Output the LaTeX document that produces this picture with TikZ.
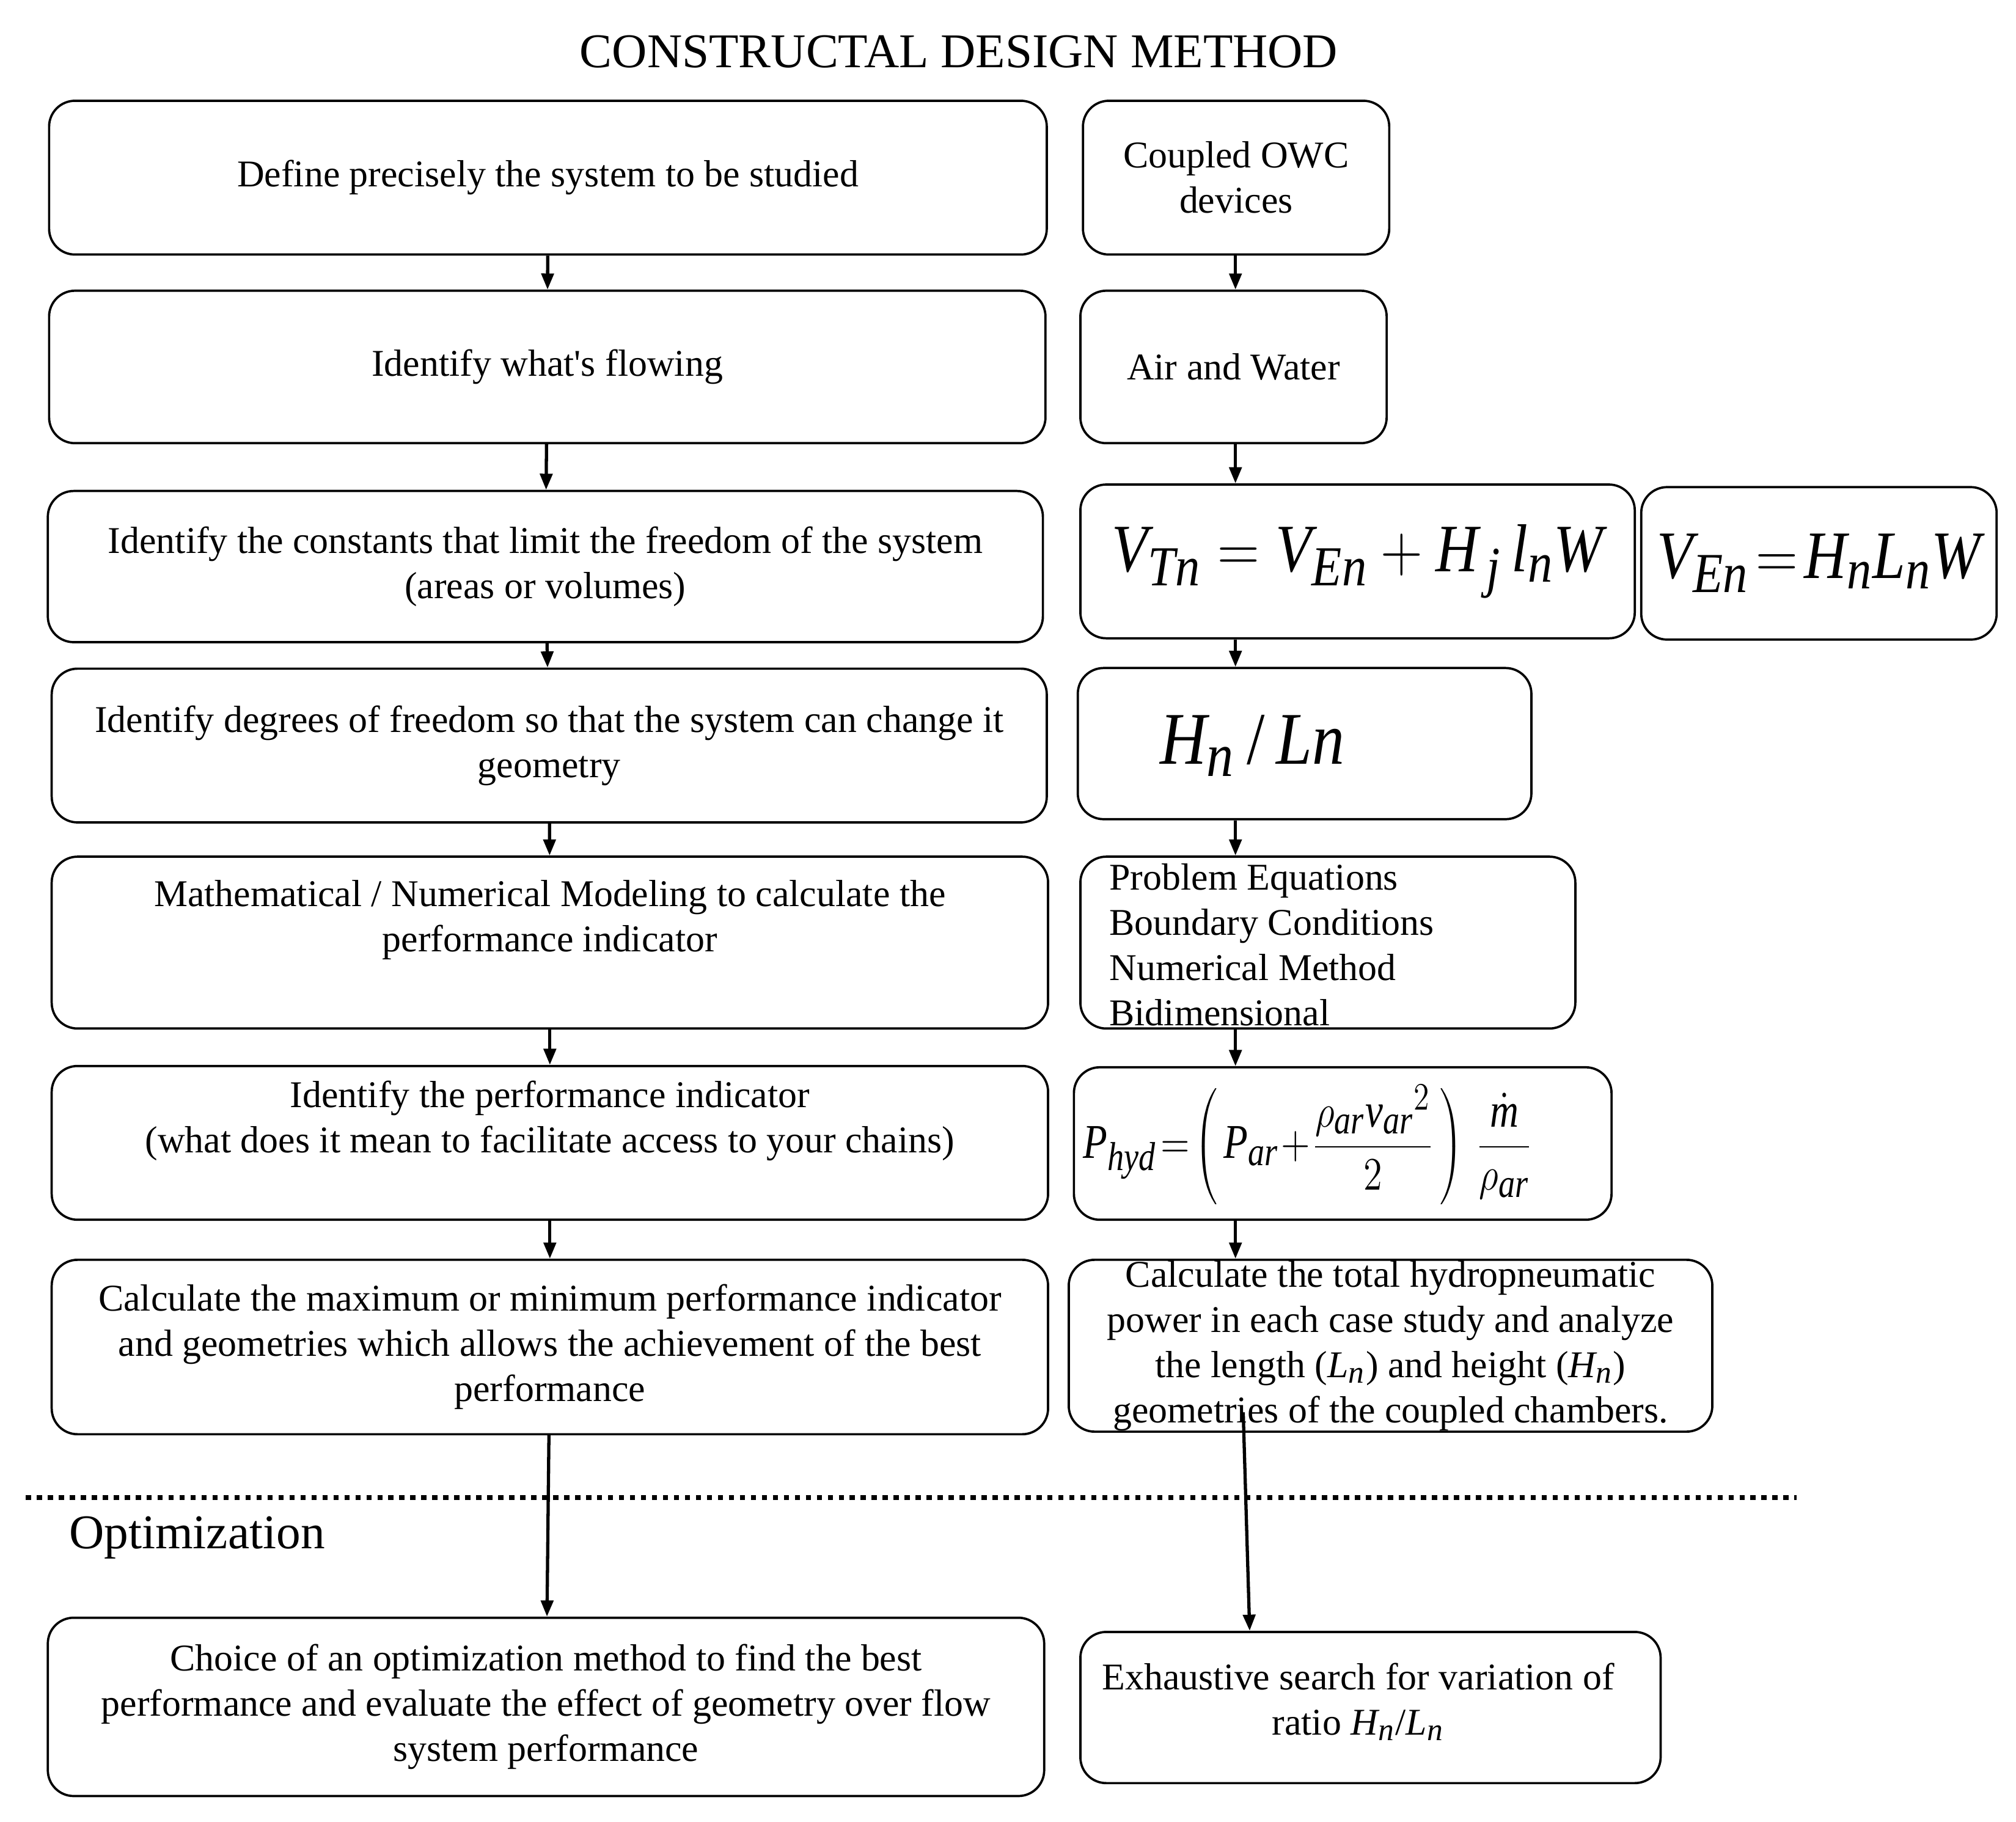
\documentclass[tikz,border=0pt]{standalone}
\usepackage{fontspec}
\setmainfont{Liberation Serif}
\usepackage[italic]{mathastext}
\usepackage{graphicx}
\usetikzlibrary{arrows.meta,positioning}
\newcommand{\un}{0.4pt}
\newcommand{\bodysize}{\fontsize{11.7}{14}\selectfont}
\newcommand{\bigsize}{\fontsize{15}{18}\selectfont}
\newcommand{\eqsize}{\fontsize{21}{24}\selectfont}
\newcommand{\narrow}[1]{\scalebox{0.87}[1]{#1}}

\begin{document}
\begin{tikzpicture}[x=\un, y=-\un]
    \tikzset{box/.style = {draw, rounded corners=8pt, line width=0.7pt, inner sep=0pt, align=center, font=\bodysize}}
    \tikzset{txt/.style = {inner sep=0pt, align=center, font=\bodysize}}
    \tikzset{arr/.style = {line width=1pt, -{Triangle[length=5pt, width=3.8pt]}}}
    \useasboundingbox (0,0) rectangle (1560,1410);
    \node[txt, font=\bigsize] (title) at (742,40) {CONSTRUCTAL DESIGN METHOD};
    % left column
    \node[box, minimum width=772*\un, minimum height=119*\un] (def) at (424,137.5) {Define precisely the system to be studied};
    \node[box, minimum width=771*\un, minimum height=118*\un] (flow) at (423.5,284) {Identify what\textquotesingle s flowing};
    \node[box, minimum width=770*\un, minimum height=117*\un] (cons) at (422,438.5) {Identify the constants that limit the freedom of the system\\(areas or volumes)};
    \node[box, minimum width=770*\un, minimum height=119*\un] (dof) at (425,577) {Identify degrees of freedom so that the system can change it\\geometry};
    \node[box, minimum width=771*\un, minimum height=133*\un] (model) at (425.5,729.5) {};
    \node[txt] (modeltxt) at (425.5,712) {Mathematical / Numerical Modeling to calculate the\\performance indicator};
    \node[box, minimum width=771*\un, minimum height=119*\un] (perf) at (425.5,884.5) {};
    \node[txt] (perftxt) at (425.5,867.5) {Identify the performance indicator\\(what does it mean to facilitate access to your chains)};
    \node[box, minimum width=771*\un, minimum height=135*\un] (calc) at (425.5,1042.5) {Calculate the maximum or minimum performance indicator\\and geometries which allows the achievement of the best\\performance};
    \node[box, minimum width=771*\un, minimum height=138*\un] (choice) at (422.5,1321) {Choice of an optimization method to find the best\\performance and evaluate the effect of geometry over flow\\system performance};
    % right column
    \node[box, minimum width=237*\un, minimum height=119*\un] (owc) at (956.5,137.5) {Coupled OWC\\devices};
    \node[box, minimum width=237*\un, minimum height=118*\un] (air) at (954.5,284) {Air and Water};
    \node[box, minimum width=429*\un, minimum height=119*\un, font=\eqsize] (vtn) at (1050.5,434.5) {\narrow{$V_{Tn} = V_{En} + H_{\,j}\,l_n W$}};
    \node[box, minimum width=275*\un, minimum height=118*\un, font=\eqsize] (ven) at (1407.5,436) {\narrow{$V_{En}\!=\!H_n L_n W$}};
    \node[box, minimum width=351*\un, minimum height=117*\un] (ratio) at (1009.5,575.5) {};
    \node[txt, font=\fontsize{23}{26}\selectfont] (ratiotxt) at (969,577) {\narrow{$H_n \,/\, Ln$}};
    \node[box, minimum width=383*\un, minimum height=133*\un] (eqs) at (1027.5,729.5) {};
    \node[txt, align=left, anchor=west] (eqstxt) at (858,731) {Problem Equations\\Boundary Conditions\\Numerical Method\\Bidimensional};
    \node[box, minimum width=416*\un, minimum height=118*\un] (phyd) at (1039,885) {};
    \node[txt, font=\fontsize{15}{18}\selectfont] (phydtxt) at (1012,886) {\scalebox{0.82}[1]{$P_{hyd}\!=\!\left(\, P_{ar}\!+\!\displaystyle\frac{\rho_{ar}{v_{ar}}^{2}}{2} \,\right)\, \displaystyle\frac{\dot{m}}{\rho_{ar}}$}};
    \node[box, minimum width=498*\un, minimum height=133*\un] (power) at (1076,1041.5) {Calculate the total hydropneumatic\\power in each case study and analyze\\the length ($L_n$) and height ($H_n$)\\geometries of the coupled chambers.};
    \node[box, minimum width=449*\un, minimum height=117*\un] (search) at (1060.5,1321.5) {};
    \node[txt] (searchtxt) at (1051,1317) {Exhaustive search for variation of\\ratio $H_n/L_n$};
    % optimization split
    \coordinate (dl) at (20,1159);
    \coordinate (dr) at (1390,1159);
    \draw[line width=1.6pt, dash pattern=on 1.6pt off 1.8pt] (dl) -- (dr);
    \node[txt, font=\bigsize, anchor=west] (opt) at (53,1190) {Optimization};
    % arrows
    \draw[arr] (def) -- (flow);
    \draw[arr] (flow) -- (cons);
    \draw[arr] (cons) -- (dof);
    \draw[arr] (dof) -- (model);
    \draw[arr] (model) -- (perf);
    \draw[arr] (perf) -- (calc);
    \draw[arr] (calc) -- (choice);
    \coordinate (rc) at (956,0);
    \draw[arr] (owc.south -| rc) -- (air.north -| rc);
    \draw[arr] (air.south -| rc) -- (vtn.north -| rc);
    \draw[arr] (vtn.south -| rc) -- (ratio.north -| rc);
    \draw[arr] (ratio.south -| rc) -- (eqs.north -| rc);
    \draw[arr] (eqs.south -| rc) -- (phyd.north -| rc);
    \draw[arr] (phyd.south -| rc) -- (power.north -| rc);
    \coordinate (pw) at (962,1093);
    \coordinate (se) at (967,0);
    \draw[arr] (pw) -- (search.north -| se);
\end{tikzpicture}
\end{document}
